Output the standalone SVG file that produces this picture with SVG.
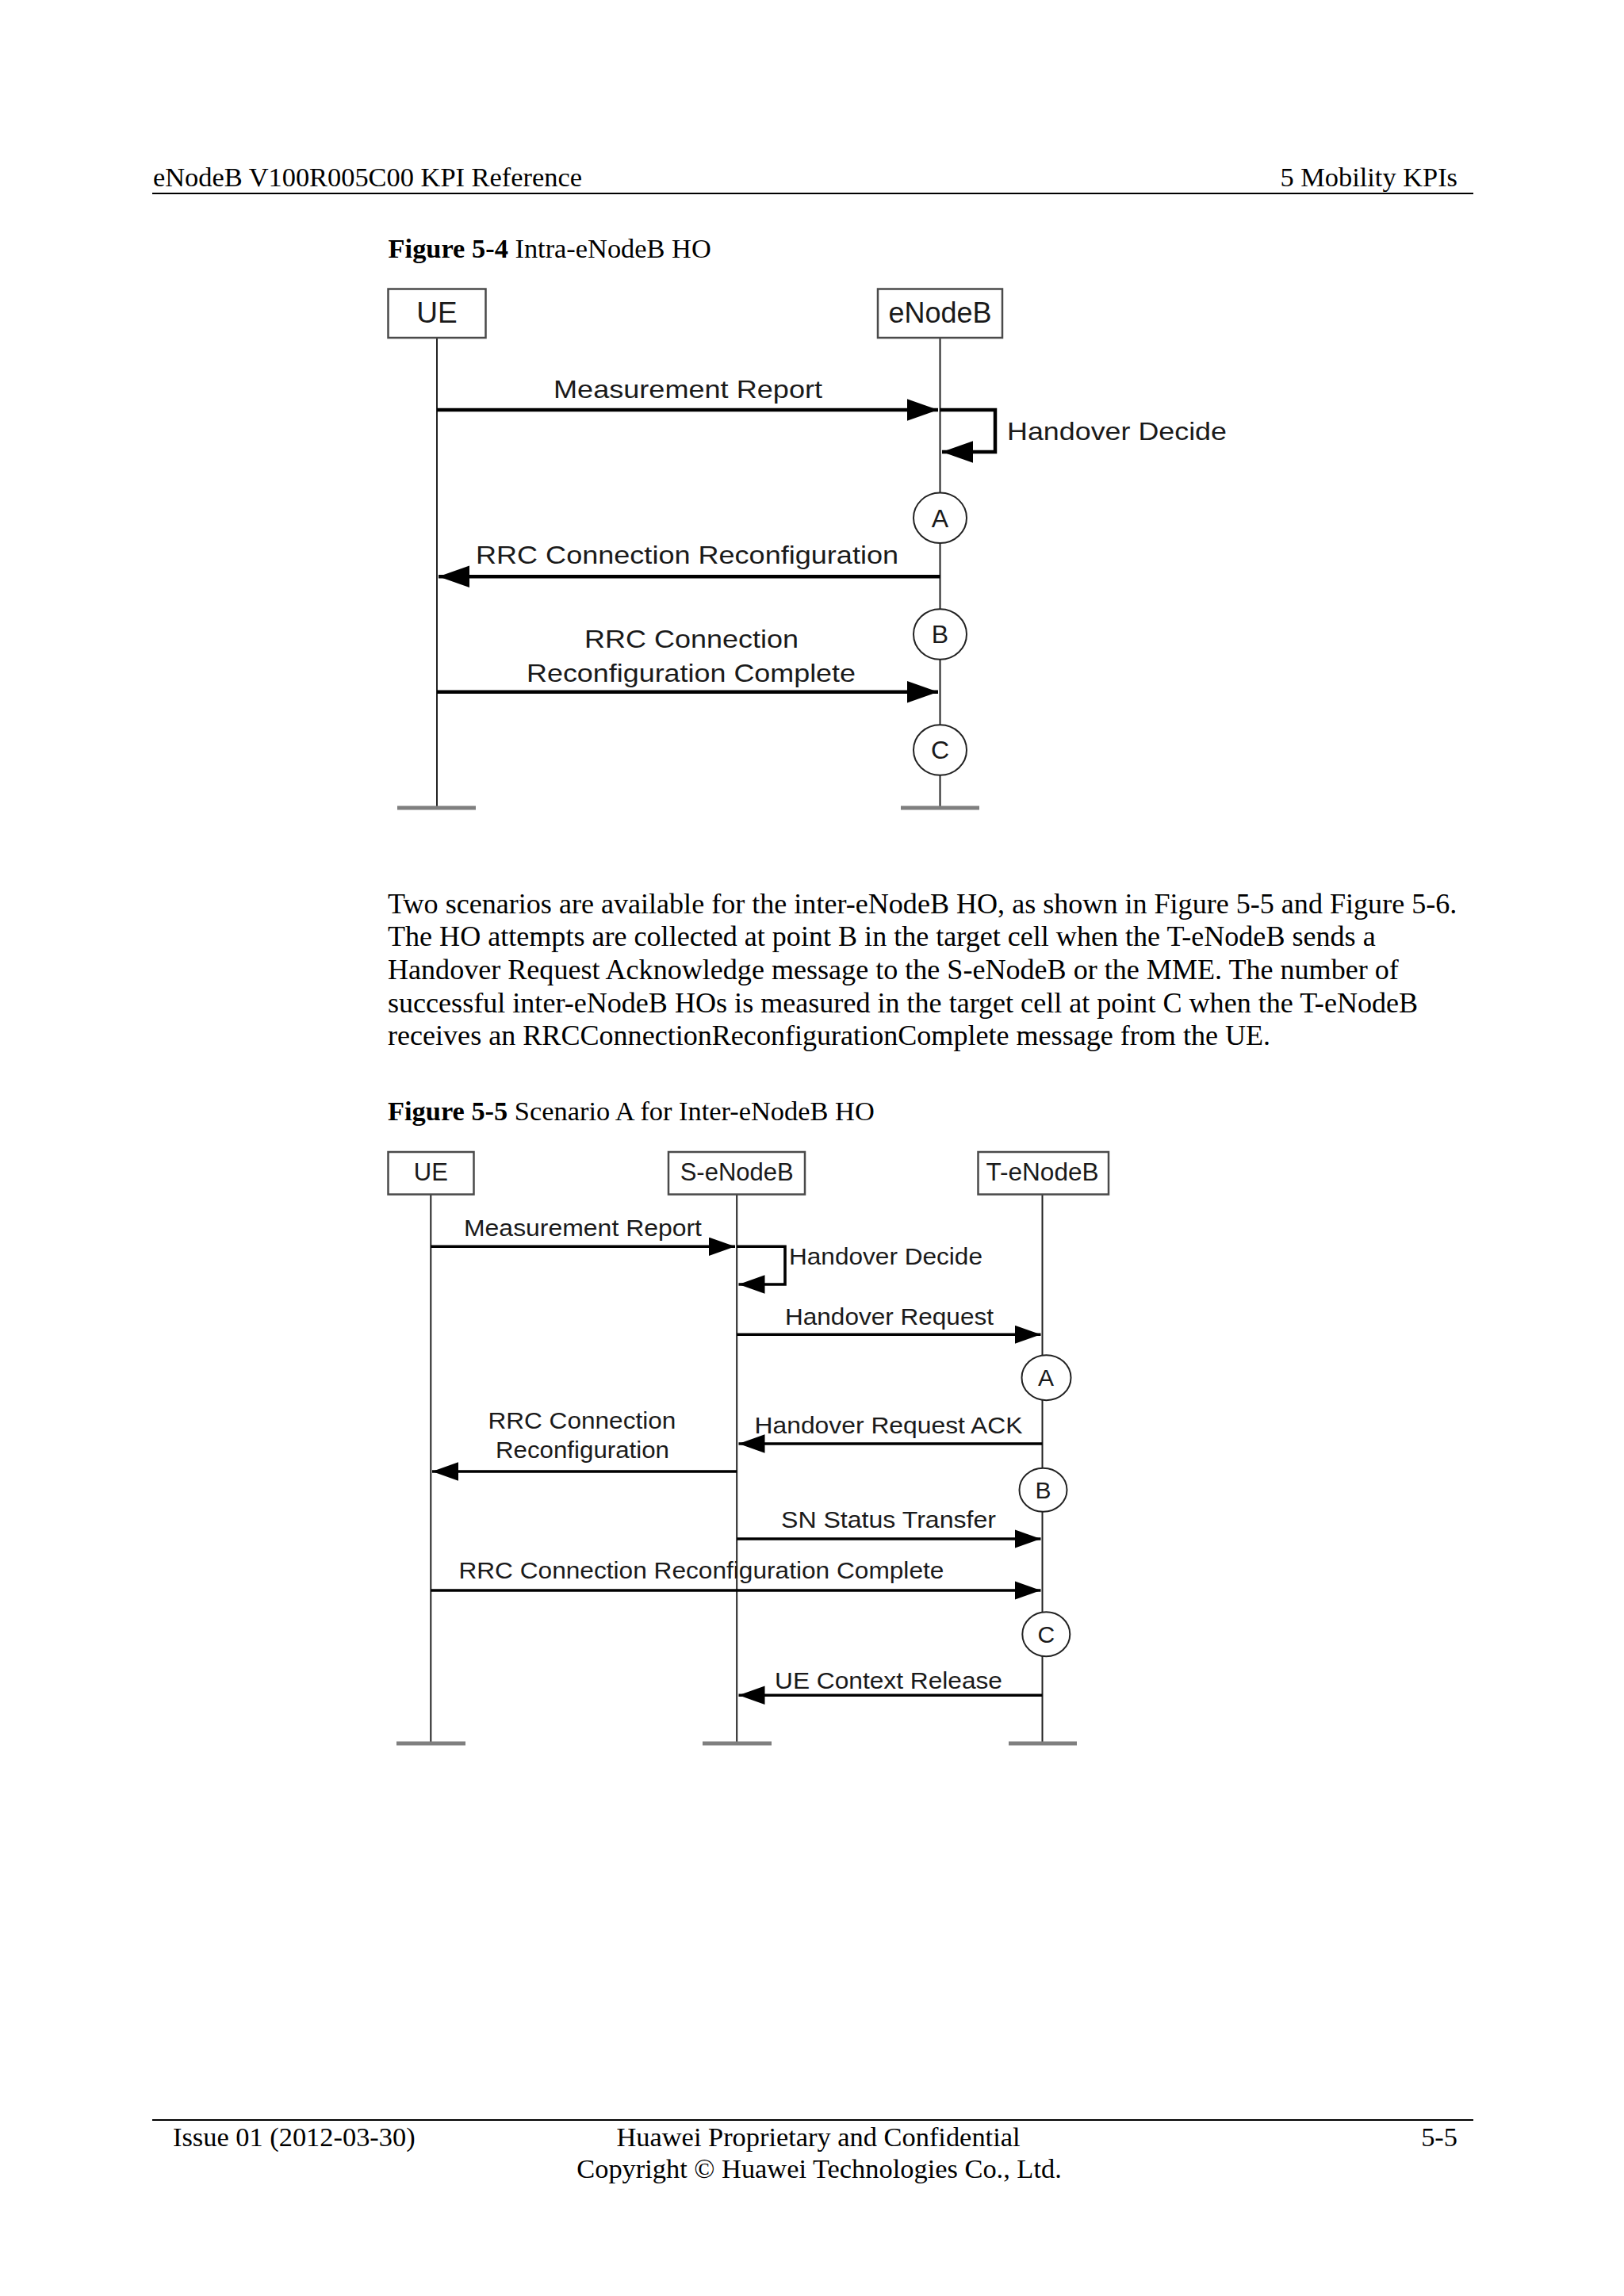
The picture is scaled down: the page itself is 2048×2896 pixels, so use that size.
<svg xmlns="http://www.w3.org/2000/svg" width="2048" height="2896" viewBox="0 0 2048 2896">
<style>
.doc{font-family:"Liberation Serif","Times New Roman",serif;font-size:34.4px;fill:#000}
.body{font-size:36.1px}
.b{font-weight:bold}
.box{fill:#fff;stroke:#4a4a4a;stroke-width:2.5}
.life{stroke:#222;stroke-width:2;fill:none}
.bar{stroke:#7f7f7f;stroke-width:5}
.mk{fill:#fff;stroke:#222;stroke-width:2}
.lbl{font-family:"Liberation Sans",Arial,sans-serif;fill:#1a1a1a}
.l4{font-size:32px}
.l5{font-size:29px}
.nm4{font-size:37px;text-anchor:middle}
.nm5{font-size:31px;text-anchor:middle}
.ck4{font-size:32px;text-anchor:middle}
.ck5{font-size:30px;text-anchor:middle}
.m4{stroke:#000;stroke-width:4.5;fill:none;marker-end:url(#ah4)}
.m5{stroke:#000;stroke-width:3.6;fill:none;marker-end:url(#ah5)}
.rule{stroke:#000;stroke-width:2}
</style>
<defs>
<marker id="ah4" markerUnits="userSpaceOnUse" markerWidth="40" markerHeight="28" refX="39" refY="13.7" orient="auto">
<path d="M0,0 L39,13.7 L0,27.4 z" fill="#000"/>
</marker>
<marker id="ah5" markerUnits="userSpaceOnUse" markerWidth="34" markerHeight="24" refX="33" refY="11.7" orient="auto">
<path d="M0,0 L33,11.7 L0,23.4 z" fill="#000"/>
</marker>
</defs>
<rect width="2048" height="2896" fill="#fff"/>

<g id="page-header">
<text class="doc" x="193" y="235">eNodeB V100R005C00 KPI Reference</text>
<text class="doc" x="1838" y="235" text-anchor="end">5 Mobility KPIs</text>
<line class="rule" x1="192" y1="244" x2="1858" y2="244"/>
</g>

<text class="doc" x="489.6" y="325"><tspan class="b">Figure 5-4</tspan> Intra-eNodeB HO</text>

<g id="fig4">
<g id="f4-ue">
<line class="life" x1="551" y1="426" x2="551" y2="1019"/>
<line class="bar" x1="501" y1="1019" x2="600" y2="1019"/>
<rect class="box" x="489.5" y="364.5" width="123" height="61.5"/>
<text class="lbl nm4" x="551" y="407">UE</text>
</g>
<g id="f4-enodeb">
<line class="life" x1="1185.5" y1="426" x2="1185.5" y2="1019"/>
<line class="bar" x1="1136" y1="1019" x2="1235" y2="1019"/>
<rect class="box" x="1107" y="364.5" width="157" height="61.5"/>
<text class="lbl nm4" x="1185.5" y="407" textLength="130" lengthAdjust="spacingAndGlyphs">eNodeB</text>
</g>
<g id="f4-A"><ellipse class="mk" cx="1185.5" cy="653.3" rx="33.5" ry="31.7"/><text class="lbl ck4" x="1185.5" y="664.5">A</text></g>
<g id="f4-B"><ellipse class="mk" cx="1185.5" cy="800" rx="33.5" ry="31.7"/><text class="lbl ck4" x="1185.5" y="811">B</text></g>
<g id="f4-C"><ellipse class="mk" cx="1185.5" cy="946" rx="33.5" ry="31.7"/><text class="lbl ck4" x="1185.5" y="957">C</text></g>
<g id="f4-connectors">
<line class="m4" x1="551" y1="517" x2="1183" y2="517"/>
<text class="lbl l4" x="698" y="502" textLength="339" lengthAdjust="spacingAndGlyphs">Measurement Report</text>
<path class="m4" d="M1185.5,517 H1255 V570 H1188"/>
<text class="lbl l4" x="1270" y="555" textLength="277" lengthAdjust="spacingAndGlyphs">Handover Decide</text>
<line class="m4" x1="1185.5" y1="727.3" x2="553" y2="727.3"/>
<text class="lbl l4" x="600" y="711" textLength="533" lengthAdjust="spacingAndGlyphs">RRC Connection Reconfiguration</text>
<line class="m4" x1="551" y1="872.7" x2="1183" y2="872.7"/>
<text class="lbl l4" x="737" y="817" textLength="270" lengthAdjust="spacingAndGlyphs">RRC Connection</text>
<text class="lbl l4" x="664" y="860" textLength="415" lengthAdjust="spacingAndGlyphs">Reconfiguration Complete</text>
</g>
</g>

<g id="paragraph">
<text class="doc body" x="489" y="1151.7">Two scenarios are available for the inter-eNodeB HO, as shown in Figure 5-5 and Figure 5-6.</text>
<text class="doc body" x="489" y="1193.3">The HO attempts are collected at point B in the target cell when the T-eNodeB sends a</text>
<text class="doc body" x="489" y="1235">Handover Request Acknowledge message to the S-eNodeB or the MME. The number of</text>
<text class="doc body" x="489" y="1276.7">successful inter-eNodeB HOs is measured in the target cell at point C when the T-eNodeB</text>
<text class="doc body" x="489" y="1318.3">receives an RRCConnectionReconfigurationComplete message from the UE.</text>
</g>

<text class="doc" x="489" y="1413.3"><tspan class="b">Figure 5-5</tspan> Scenario A for Inter-eNodeB HO</text>

<g id="fig5">
<g id="f5-ue">
<line class="life" x1="543.3" y1="1506" x2="543.3" y2="2199"/>
<line class="bar" x1="500" y1="2199" x2="587" y2="2199"/>
<rect class="box" x="489.5" y="1453" width="108" height="53.5"/>
<text class="lbl nm5" x="543.3" y="1489">UE</text>
</g>
<g id="f5-senodeb">
<line class="life" x1="929.2" y1="1506" x2="929.2" y2="2199"/>
<line class="bar" x1="886" y1="2199" x2="973" y2="2199"/>
<rect class="box" x="843" y="1453" width="172" height="53.5"/>
<text class="lbl nm5" x="929.2" y="1489" textLength="143" lengthAdjust="spacingAndGlyphs">S-eNodeB</text>
</g>
<g id="f5-tenodeb">
<line class="life" x1="1314.5" y1="1506" x2="1314.5" y2="2199"/>
<line class="bar" x1="1272" y1="2199" x2="1358" y2="2199"/>
<rect class="box" x="1233.5" y="1453" width="164.5" height="53.5"/>
<text class="lbl nm5" x="1314.5" y="1489" textLength="142" lengthAdjust="spacingAndGlyphs">T-eNodeB</text>
</g>
<g id="f5-A"><ellipse class="mk" cx="1319.5" cy="1737.7" rx="31" ry="28.5"/><text class="lbl ck5" x="1319" y="1748">A</text></g>
<g id="f5-B"><ellipse class="mk" cx="1315.5" cy="1879.2" rx="30" ry="27.5"/><text class="lbl ck5" x="1315.5" y="1889.5">B</text></g>
<g id="f5-C"><ellipse class="mk" cx="1319.3" cy="2061.3" rx="30" ry="28"/><text class="lbl ck5" x="1319.3" y="2072">C</text></g>
<g id="f5-connectors">
<line class="m5" x1="543.3" y1="1572.3" x2="927" y2="1572.3"/>
<text class="lbl l5" x="585" y="1559.3" textLength="300" lengthAdjust="spacingAndGlyphs">Measurement Report</text>
<path class="m5" d="M929.2,1572.3 H990 V1620 H931.5"/>
<text class="lbl l5" x="995" y="1595" textLength="244" lengthAdjust="spacingAndGlyphs">Handover Decide</text>
<line class="m5" x1="929.2" y1="1683.3" x2="1312.5" y2="1683.3"/>
<text class="lbl l5" x="990" y="1670.7" textLength="263" lengthAdjust="spacingAndGlyphs">Handover Request</text>
<line class="m5" x1="1314.5" y1="1821" x2="931.5" y2="1821"/>
<text class="lbl l5" x="951.5" y="1808.3" textLength="338" lengthAdjust="spacingAndGlyphs">Handover Request ACK</text>
<line class="m5" x1="929.2" y1="1856" x2="545" y2="1856"/>
<text class="lbl l5" x="615.4" y="1801.7" textLength="237" lengthAdjust="spacingAndGlyphs">RRC Connection</text>
<text class="lbl l5" x="625" y="1839.3" textLength="219" lengthAdjust="spacingAndGlyphs">Reconfiguration</text>
<line class="m5" x1="929.2" y1="1941" x2="1312.5" y2="1941"/>
<text class="lbl l5" x="985" y="1927.3" textLength="271" lengthAdjust="spacingAndGlyphs">SN Status Transfer</text>
<line class="m5" x1="543.3" y1="2006" x2="1312.5" y2="2006"/>
<text class="lbl l5" x="578.4" y="1990.7" textLength="612" lengthAdjust="spacingAndGlyphs">RRC Connection Reconfiguration Complete</text>
<line class="m5" x1="1314.5" y1="2138.3" x2="931.5" y2="2138.3"/>
<text class="lbl l5" x="977" y="2130" textLength="287" lengthAdjust="spacingAndGlyphs">UE Context Release</text>
</g>
</g>

<g id="page-footer">
<line class="rule" x1="192" y1="2674" x2="1858" y2="2674"/>
<text class="doc" x="218" y="2706.7">Issue 01 (2012-03-30)</text>
<text class="doc" x="1032" y="2706.7" text-anchor="middle">Huawei Proprietary and Confidential</text>
<text class="doc" x="1033" y="2747.3" text-anchor="middle">Copyright © Huawei Technologies Co., Ltd.</text>
<text class="doc" x="1838" y="2706.7" text-anchor="end">5-5</text>
</g>
</svg>
